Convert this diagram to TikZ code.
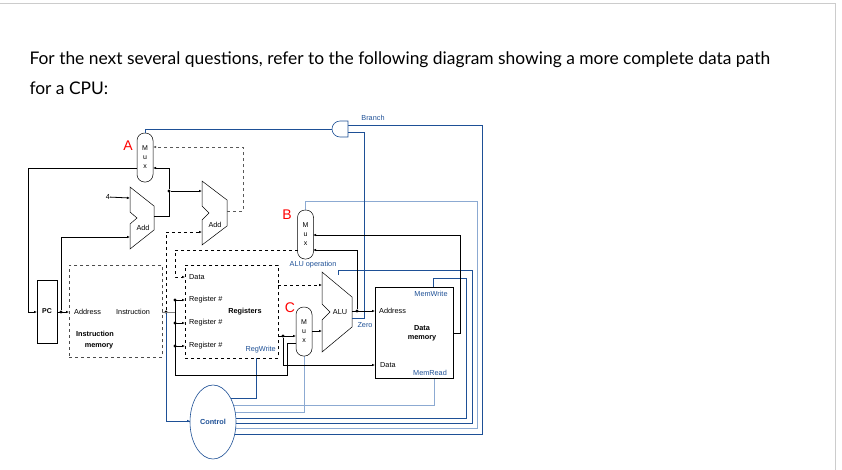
\documentclass[tikz,border=0pt]{standalone}
\usepackage{fontspec}
\setmainfont{Liberation Sans}
\newfontfamily\lato{Lato}
\usetikzlibrary{arrows.meta,shapes.geometric}
\definecolor{cblue}{RGB}{30,80,150}
\definecolor{lblue}{RGB}{140,170,210}
\begin{document}
\begin{tikzpicture}[x=1pt,y=-1pt,
  wire/.style={line width=0.8pt,black},
  arr/.style={wire,-{Latex[length=3pt,width=2.5pt]}},
  ctl/.style={line width=0.8pt,cblue},
  dot/.style={circle,fill=black,inner sep=1.2pt},
  lab/.style={font=\fontsize{7.3}{8}\selectfont,inner sep=0pt},
  blab/.style={lab,text=cblue},
  mux/.style={draw,rounded corners=7.5pt,minimum width=16pt,line width=0.5pt,fill=white,align=center,font=\fontsize{7}{9}\selectfont,inner sep=0pt},
  box/.style={draw,dashed,line width=0.6pt,fill=white},
  red/.style={text=red,font=\fontsize{14}{14}\selectfont,inner sep=0pt}]
\useasboundingbox (0,0) rectangle (842,469);
\draw[gray!40] (-1,3) -- (835,3) -- (835,470);
\node[anchor=west,font=\lato\fontsize{17.4}{20}\selectfont] (t1) at (26,60) {For the next several questions, refer to the following diagram showing a more complete data path};
\node[anchor=west,font=\lato\fontsize{17.4}{20}\selectfont] (t2) at (26,88) {for a CPU:};

% control wires (drawn first)
\draw[ctl] (230,398) -| (256,358);
\draw[ctl,lblue] (230,405) -| (434,378);
\draw[ctl,lblue] (230,412) -| (304,356);
\draw[ctl] (230,418) -| (466,278) -| (433,287);
\draw[ctl] (230,423) -| (472,270) -| (338,275);
\draw[ctl,lblue] (230,428) -| (477,201) -| (305,210);
\draw[ctl] (230,434) -| (482,125) -- (348,125);
\draw[ctl] (166,312) |- (190,421);
\draw[ctl,-{Latex[length=3pt,width=2.5pt]}] (180,421) -- (190,421);

% nodes
\node[mux,minimum height=49pt] (muxA) at (145,157.5) {M\\u\\x};
\node[red] (la) at (128,146) {A};
\node[mux,minimum height=49pt] (muxB) at (305.5,234.5) {M\\u\\x};
\node[red] (lb) at (287,215) {B};
\node[mux,minimum height=49pt] (muxC) at (304,331.5) {M\\u\\x};
\node[red] (lc) at (290,308) {C};
\node[draw,line width=0.5pt,minimum width=20pt,minimum height=63pt,font=\bfseries\fontsize{7}{8}\selectfont] (pc) at (47,311.5) {PC};
\node[box,minimum width=93pt,minimum height=92pt,anchor=north west,draw=gray!60!black] (im) at (69,265) {};
\node[box,minimum width=93pt,minimum height=93pt,anchor=north west] (rg) at (185,265) {};
\node[draw,line width=0.5pt,fill=white,minimum width=78pt,minimum height=91pt,anchor=north west] (dm) at (375,287) {};
\node[draw,ellipse,cblue,line width=0.6pt,fill=white,minimum width=46pt,minimum height=74pt] (ctrl) at (213,422) {};
\node[lab,text=cblue,font=\bfseries\fontsize{7.3}{8}\selectfont] (ctrlt) at (213,422) {Control};

% adders / ALU
\draw[line width=0.5pt,fill=white] (130,187) -- (154,206) -- (154,230) -- (130,249) -- (130,224) -- (137,218) -- (130,212) -- cycle;
\node[lab] (add1) at (143,228) {Add};
\draw[line width=0.5pt,fill=white] (202,181) -- (227,200) -- (227,226) -- (202,245) -- (202,220) -- (209,213) -- (202,206) -- cycle;
\node[lab] (add2) at (215,225) {Add};
\draw[line width=0.5pt,fill=white] (322,272) -- (352,297) -- (352,327) -- (322,352) -- (322,320) -- (330,312) -- (322,304) -- cycle;
\node[lab] (alu) at (340,312) {ALU};
% AND gate
\draw[ctl,fill=white,line width=0.6pt] (340,121) -- (348,121) -- (348,137) -- (340,137) arc (90:270:8);
\node[blab] (br) at (373,118) {Branch};
\node[blab] (aluop) at (313,265) {ALU operation};
\node[blab] (zero) at (365,325) {Zero};
\node[blab,anchor=east] (rw) at (276,350) {RegWrite};
\node[blab] (mw) at (431,294) {MemWrite};
\node[blab] (mr) at (430,373) {MemRead};

% texts
\node[lab] (four) at (108,197) {4};
\node[lab,anchor=west] (addr) at (74,312) {Address};
\node[lab,anchor=west] (ins) at (116,312) {Instruction};
\node[lab,font=\bfseries\fontsize{7.3}{8}\selectfont,anchor=west] (imt) at (76,334) {Instruction};
\node[lab,font=\bfseries\fontsize{7.3}{8}\selectfont] (imt2) at (99,346) {memory};
\node[lab,anchor=west] (d1) at (189,277) {Data};
\node[lab,anchor=west] (r1) at (189,300) {Register \#};
\node[lab,anchor=west] (r2) at (189,323) {Register \#};
\node[lab,anchor=west] (r3) at (189,346) {Register \#};
\node[lab,font=\bfseries\fontsize{7.3}{8}\selectfont] (rgt) at (245,312) {Registers};
\node[lab,anchor=west] (da) at (379,311) {Address};
\node[lab,anchor=west] (dd) at (380,365) {Data};
\node[lab,font=\bfseries\fontsize{7.3}{8}\selectfont,align=center] (dmt) at (422,333) {Data\\[1pt]memory};

% control line to muxA, zero
\draw[ctl] (145,133) |- (332,129);
\draw[ctl] (348,132) -| (364,318) -- (352,318);

% datapath wires
\draw[arr] (57,312) -- (69,312);
\node[dot] (d0) at (61,312) {};
\draw[arr] (d0) |- (130,237);
\draw[arr] (137,168) -- (28,168) |- (37,312);
\draw[arr] (four) -- (130,198);
\draw[wire] (154,216) -- (169,216) -- (169,191);
\node[dot] (d2) at (169,191) {};
\draw[arr] (d2) |- (153,168);
\draw[arr] (d2) -- (202,191);
\draw[arr,gray!70!black,dashed] (227,211) -- (243,211) |- (153,147);
\node[dot] (d3) at (166,312) {};
\draw[wire,gray] (162,312) -- (175,312);
\draw[arr,dashed] (d3) |- (202,232);
\draw[wire] (175,300) -- (175,375) -- (287,375) |- (296,343);
\foreach \y in {300,323,346}{\node[dot] at (175,\y) {}; \draw[arr] (175,\y) -- (185,\y);}
\draw[arr,dashed] (298,250) -- (175,250) |- (185,277);
\draw[arr,dashed] (278,285) -- (322,285);
\node[dot] (d4) at (283,336) {};
\draw[arr] (278,336) -- (296,336);
\draw[arr] (d4) |- (375,365);
\draw[arr] (312,331) -- (322,331);
\draw[arr] (352,311) -- (375,311);
\node[dot] (d5) at (357,311) {};
\draw[arr] (d5) |- (313,250);
\draw[arr] (453,333) -- (460,333) |- (313,235);
\end{tikzpicture}
\end{document}
